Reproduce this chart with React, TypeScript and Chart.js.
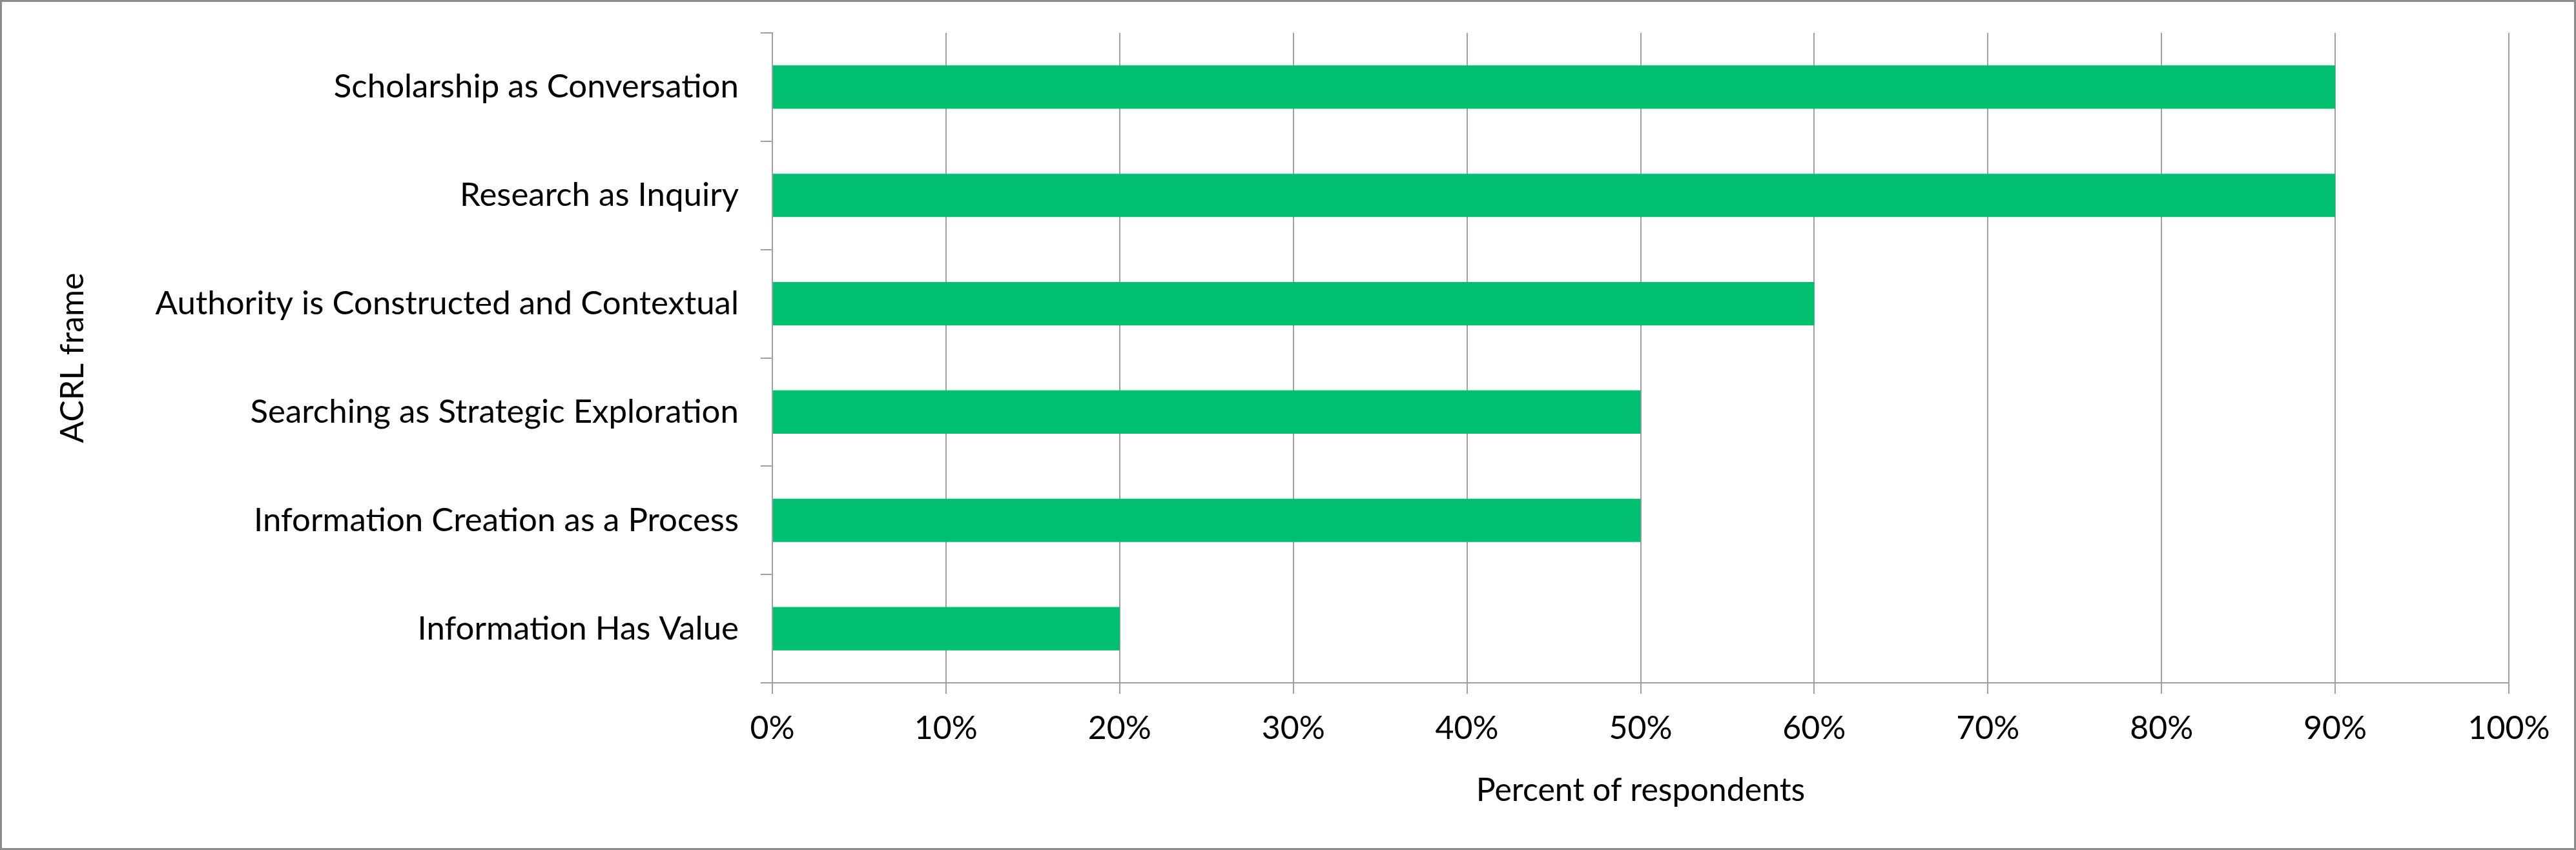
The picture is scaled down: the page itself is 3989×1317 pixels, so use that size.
import React, { useEffect, useRef } from "react";
import { Chart, registerables } from "chart.js";

Chart.register(...registerables);

const categories = [
  "Scholarship as Conversation",
  "Research as Inquiry",
  "Authority is Constructed and Contextual",
  "Searching as Strategic Exploration",
  "Information Creation as a Process",
  "Information Has Value",
];
const values = [90, 90, 60, 50, 50, 20];
const xMin = 0;
const xMax = 100;
const xStep = 10;
const xTitle = "Percent of respondents";
const yTitle = "ACRL frame";
const barColor = "#00BF6F";
const gridColor = "#a0a0a0";
const FONT = "Lato";

const W = 3989;
const H = 1317;

const borderPlugin = {
  id: "outerBorder",
  afterDraw(chart: any) {
    const ctx = chart.ctx;
    ctx.save();
    ctx.strokeStyle = "#8c8c8c";
    ctx.lineWidth = 3;
    ctx.strokeRect(1.5, 1.5, chart.width - 3, chart.height - 3);
    ctx.restore();
  },
};

export default function App() {
  const ref = useRef<HTMLCanvasElement | null>(null);
  useEffect(() => {
    document.body.style.margin = "0";
    const canvas = ref.current;
    if (!canvas) return;
    const chart = new Chart(canvas, {
      type: "bar",
      data: {
        labels: categories,
        datasets: [
          {
            data: values,
            backgroundColor: barColor,
            borderWidth: 0,
            barPercentage: 0.4,
            categoryPercentage: 1,
          },
        ],
      },
      plugins: [borderPlugin],
      options: {
        indexAxis: "y",
        animation: false,
        responsive: false,
        devicePixelRatio: 1,
        layout: { padding: { top: 51, right: 104, bottom: 0, left: 0 } },
        plugins: {
          legend: { display: false },
          tooltip: { enabled: false },
        },
        scales: {
          x: {
            type: "linear",
            min: xMin,
            max: xMax,
            ticks: {
              stepSize: xStep,
              color: "#000",
              font: { family: FONT, size: 50 },
              padding: 24,
              callback: (v: any) => `${v}%`,
            },
            grid: {
              color: gridColor,
              lineWidth: 2,
              tickLength: 17,
              drawOnChartArea: true,
            },
            border: { display: true, color: gridColor, width: 2 },
            title: {
              display: true,
              text: xTitle,
              color: "#000",
              font: { family: FONT, size: 50 },
              padding: { top: 0, bottom: 62 },
            },
            afterFit: (s: any) => {
              s.height = 259;
            },
          },
          y: {
            type: "category",
            offset: true,
            ticks: {
              color: "#000",
              font: { family: FONT, size: 51 },
              padding: 34,
            },
            grid: {
              offset: true,
              drawOnChartArea: false,
              drawTicks: true,
              tickLength: 18,
              color: gridColor,
              lineWidth: 2,
            },
            border: { display: true, color: gridColor, width: 2 },
            title: {
              display: true,
              text: yTitle,
              color: "#000",
              font: { family: FONT, size: 50 },
              padding: { top: 83, bottom: 0 },
            },
            afterFit: (s: any) => {
              s.width = 1196;
              s.paddingTop = 0;
              s.paddingBottom = 0;
            },
          },
        },
      },
    } as any);
    return () => chart.destroy();
  }, []);
  return (
    <div style={{ position: "absolute", left: 0, top: 0, width: W, height: H }}>
      <canvas ref={ref} width={W} height={H} style={{ width: W, height: H, display: "block" }} />
    </div>
  );
}
